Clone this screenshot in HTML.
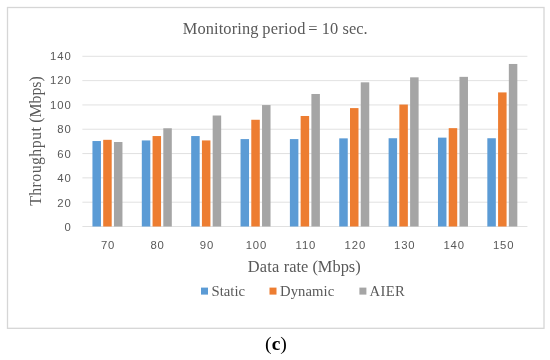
<!DOCTYPE html>
<html><head><meta charset="utf-8"><title>chart</title>
<style>html,body{margin:0;padding:0;background:#fff}svg{display:block}</style></head>
<body>
<svg width="550" height="360" viewBox="0 0 550 360">
<rect x="0" y="0" width="550" height="360" fill="#fff"/>
<rect x="7.5" y="7.5" width="536.5" height="320.8" fill="#fff" stroke="#d6d6d6" stroke-width="1.3"/>
<line x1="82.4" x2="527.4" y1="226.50" y2="226.50" stroke="#d9d9d9" stroke-width="0.8"/>
<line x1="82.4" x2="527.4" y1="202.19" y2="202.19" stroke="#d9d9d9" stroke-width="0.8"/>
<line x1="82.4" x2="527.4" y1="177.87" y2="177.87" stroke="#d9d9d9" stroke-width="0.8"/>
<line x1="82.4" x2="527.4" y1="153.56" y2="153.56" stroke="#d9d9d9" stroke-width="0.8"/>
<line x1="82.4" x2="527.4" y1="129.24" y2="129.24" stroke="#d9d9d9" stroke-width="0.8"/>
<line x1="82.4" x2="527.4" y1="104.93" y2="104.93" stroke="#d9d9d9" stroke-width="0.8"/>
<line x1="82.4" x2="527.4" y1="80.61" y2="80.61" stroke="#d9d9d9" stroke-width="0.8"/>
<line x1="82.4" x2="527.4" y1="56.30" y2="56.30" stroke="#d9d9d9" stroke-width="0.8"/>
<rect x="92.45" y="141.04" width="8.5" height="85.46" fill="#5b9bd5"/>
<rect x="103.20" y="139.82" width="8.5" height="86.68" fill="#ed7d31"/>
<rect x="113.95" y="142.01" width="8.5" height="84.49" fill="#a5a5a5"/>
<rect x="141.81" y="140.43" width="8.5" height="86.07" fill="#5b9bd5"/>
<rect x="152.56" y="136.05" width="8.5" height="90.45" fill="#ed7d31"/>
<rect x="163.31" y="128.27" width="8.5" height="98.23" fill="#a5a5a5"/>
<rect x="191.17" y="136.05" width="8.5" height="90.45" fill="#5b9bd5"/>
<rect x="201.92" y="140.43" width="8.5" height="86.07" fill="#ed7d31"/>
<rect x="212.67" y="115.51" width="8.5" height="110.99" fill="#a5a5a5"/>
<rect x="240.53" y="139.09" width="8.5" height="87.41" fill="#5b9bd5"/>
<rect x="251.28" y="119.76" width="8.5" height="106.74" fill="#ed7d31"/>
<rect x="262.03" y="105.05" width="8.5" height="121.45" fill="#a5a5a5"/>
<rect x="289.89" y="139.09" width="8.5" height="87.41" fill="#5b9bd5"/>
<rect x="300.64" y="115.99" width="8.5" height="110.51" fill="#ed7d31"/>
<rect x="311.39" y="93.99" width="8.5" height="132.51" fill="#a5a5a5"/>
<rect x="339.25" y="138.36" width="8.5" height="88.14" fill="#5b9bd5"/>
<rect x="350.00" y="108.09" width="8.5" height="118.41" fill="#ed7d31"/>
<rect x="360.75" y="82.32" width="8.5" height="144.18" fill="#a5a5a5"/>
<rect x="388.61" y="138.24" width="8.5" height="88.26" fill="#5b9bd5"/>
<rect x="399.36" y="104.56" width="8.5" height="121.94" fill="#ed7d31"/>
<rect x="410.11" y="77.33" width="8.5" height="149.17" fill="#a5a5a5"/>
<rect x="437.97" y="137.63" width="8.5" height="88.87" fill="#5b9bd5"/>
<rect x="448.72" y="128.15" width="8.5" height="98.35" fill="#ed7d31"/>
<rect x="459.47" y="76.85" width="8.5" height="149.65" fill="#a5a5a5"/>
<rect x="487.33" y="138.24" width="8.5" height="88.26" fill="#5b9bd5"/>
<rect x="498.08" y="92.41" width="8.5" height="134.09" fill="#ed7d31"/>
<rect x="508.83" y="63.96" width="8.5" height="162.54" fill="#a5a5a5"/>
<g font-family="'Liberation Sans', sans-serif" font-size="11.3" letter-spacing="0.9" fill="#595959">
<text x="71.6" y="231.40" text-anchor="end">0</text>
<text x="71.6" y="206.90" text-anchor="end">20</text>
<text x="71.6" y="182.40" text-anchor="end">40</text>
<text x="71.6" y="157.90" text-anchor="end">60</text>
<text x="71.6" y="133.40" text-anchor="end">80</text>
<text x="71.6" y="108.90" text-anchor="end">100</text>
<text x="71.6" y="84.40" text-anchor="end">120</text>
<text x="71.6" y="59.90" text-anchor="end">140</text>
<text x="108.12" y="248.9" text-anchor="middle">70</text>
<text x="157.57" y="248.9" text-anchor="middle">80</text>
<text x="207.01" y="248.9" text-anchor="middle">90</text>
<text x="256.46" y="248.9" text-anchor="middle">100</text>
<text x="305.90" y="248.9" text-anchor="middle">110</text>
<text x="355.34" y="248.9" text-anchor="middle">120</text>
<text x="404.79" y="248.9" text-anchor="middle">130</text>
<text x="454.23" y="248.9" text-anchor="middle">140</text>
<text x="503.68" y="248.9" text-anchor="middle">150</text>
</g>
<g font-family="'Liberation Serif', serif" fill="#595959">
<text y="33.5" font-size="16.4"><tspan x="182.8" letter-spacing="0.1">Monitoring</tspan> <tspan x="262.3" letter-spacing="0.25">period</tspan> <tspan x="308.3">=</tspan> <tspan x="321.7">10</tspan> <tspan x="342.6">sec.</tspan></text>
<text x="247.7" y="272" font-size="16.4"><tspan letter-spacing="0.25">Data</tspan> rate (Mbps)</text>
<text transform="translate(41.2,76.3) rotate(-90)" font-size="15.8" text-anchor="end"><tspan letter-spacing="0.45">Throughput</tspan> (Mbps)</text>
<g font-size="14.67">
<text x="211.6" y="295.7">Static</text>
<text x="280" y="295.7" letter-spacing="0.08">Dynamic</text>
<text x="369.6" y="295.7" letter-spacing="0.3">AIER</text>
</g></g>
<rect x="201" y="287.6" width="7" height="7" fill="#5b9bd5"/>
<rect x="269.5" y="287.6" width="7" height="7" fill="#ed7d31"/>
<rect x="359.4" y="287.6" width="7" height="7" fill="#a5a5a5"/>
<text x="276" y="350" font-family="'Liberation Serif', serif" font-size="19.8" fill="#000" text-anchor="middle">(<tspan font-weight="bold" font-size="19.4">c</tspan>)</text>
</svg>
</body></html>
